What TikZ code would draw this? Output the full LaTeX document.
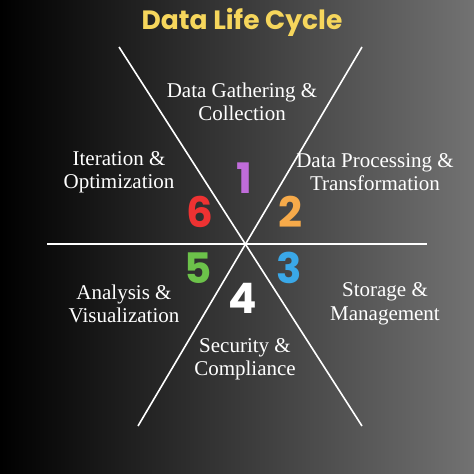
\documentclass[tikz,border=0pt]{standalone}
\usepackage{fontspec}
\setmainfont{Liberation Serif}
\newfontfamily\titlefont{Poppins}
\definecolor{bgL}{RGB}{0,0,0}
\definecolor{bgR}{RGB}{114,114,114}
\definecolor{titleY}{RGB}{246,214,92}
\definecolor{cOne}{RGB}{192,108,218}
\definecolor{cTwo}{RGB}{246,170,74}
\definecolor{cThree}{RGB}{58,168,232}
\definecolor{cFour}{RGB}{255,255,255}
\definecolor{cFive}{RGB}{108,194,74}
\definecolor{cSix}{RGB}{238,50,50}
\tikzset{
  phase/.style={text=white, align=center, font=\fontsize{21}{23.5}\selectfont, inner sep=0pt},
  num/.style={font=\titlefont\bfseries\fontsize{42}{42}\selectfont, inner sep=0pt},
  axis/.style={white, line width=1.6pt}
}
\begin{document}
\begin{tikzpicture}[x=1pt,y=-1pt]
\useasboundingbox (0,0) rectangle (474,474);
\shade[left color=bgL, right color=bgR] (0,0) rectangle (474,474);
\node[text=titleY, font=\titlefont\bfseries\fontsize{26.5}{26.5}\selectfont, inner sep=0pt] (title) at (242,22) {Data Life Cycle};
% axes
\coordinate (tl) at (119,47);
\coordinate (tr) at (362,47);
\coordinate (bl) at (138,426);
\coordinate (br) at (362,426);
\coordinate (hl) at (47,244);
\coordinate (hr) at (427,244);
\draw[axis] (tl) -- (br);
\draw[axis] (tr) -- (bl);
\draw[axis] (hl) -- (hr);
% labels
\node[phase] (p1) at (242,102) {Data Gathering \&\\Collection};
\node[phase] (p2) at (375,172) {Data Processing \&\\Transformation};
\node[phase] (p3) at (385,304) {Storage \&\\Management};
\node[phase] (p4) at (245,359) {Security \&\\Compliance};
\node[phase] (p5) at (124,304) {Analysis \&\\Visualization};
\node[phase] (p6) at (119,172) {Iteration \&\\Optimization};
% numbers
\node[num, text=cOne] (n1) at (244,178) {1};
\node[num, text=cTwo] (n2) at (290,212) {2};
\node[num, text=cThree] (n3) at (289,268) {3};
\node[num, text=cFour] (n4) at (243,298) {4};
\node[num, text=cFive] (n5) at (198,268) {5};
\node[num, text=cSix] (n6) at (200,212) {6};
\end{tikzpicture}
\end{document}
